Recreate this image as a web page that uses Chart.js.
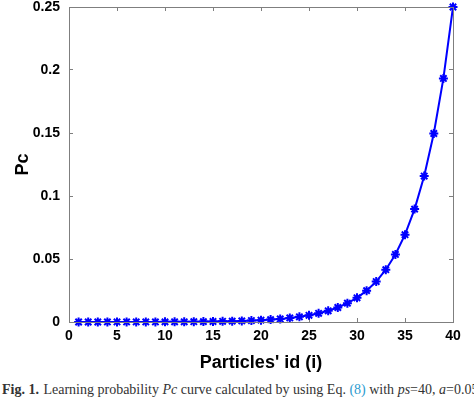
<!DOCTYPE html>
<html>
<head>
<meta charset="utf-8">
<script src="https://cdn.jsdelivr.net/npm/chart.js@4"></script>
<style>
    html, body { margin: 0; padding: 0; background: #fff; }
    #wrap { position: relative; width: 474px; height: 397px; overflow: hidden; }
    #chart { position: absolute; left: 0; top: 0; }
    #frame {
        position: absolute; left: 69px; top: 7px; width: 383px; height: 314px;
        border: 1px solid #7f7f7f; pointer-events: none;
    }
    #caption {
        position: absolute; left: 2px; top: 382px;
        font-family: 'Liberation Serif', 'DejaVu Serif', serif;
        font-size: 14px; color: #333; white-space: nowrap;
    }
    #caption b { font-weight: bold; margin-right: 1px; }
    #caption .ref { color: #2b9bd0; }
</style>
</head>
<body>
<div id="wrap">
    <canvas id="chart" width="474" height="376"></canvas>
    <div id="frame"></div>
    <div id="caption"><b>Fig. 1.</b> Learning probability <i>Pc</i> curve calculated by using Eq. <span class="ref">(8)</span> with <i>ps</i>=40, <i>a</i>=0.05, <i>b</i>=0.45</div>
</div>
<script>
// particle ids 1..40
const particleIds = [1, 2, 3, 4, 5, 6, 7, 8, 9, 10, 11, 12, 13, 14, 15, 16, 17, 18, 19, 20,
    21, 22, 23, 24, 25, 26, 27, 28, 29, 30, 31, 32, 33, 34, 35, 36, 37, 38, 39, 40];
// learning probability Pc
const pcValues = [0, 0.000003, 0.000008, 0.000013, 0.00002, 0.00003, 0.000042, 0.000057, 0.000077, 0.000103,
    0.000136, 0.000179, 0.000235, 0.000307, 0.0004, 0.00052, 0.000675, 0.000876, 0.00113, 0.00147,
    0.0019, 0.00246, 0.00319, 0.00412, 0.00533, 0.00689, 0.0089, 0.0115, 0.0149, 0.0192,
    0.0249, 0.0321, 0.0415, 0.0536, 0.0693, 0.0896, 0.1158, 0.1496, 0.1933, 0.25];
const xTicks = [0, 5, 10, 15, 20, 25, 30, 35, 40];
const yTicks = [0, 0.05, 0.1, 0.15, 0.2, 0.25];

const axisFont = "'Liberation Sans', Arial, sans-serif";
const frameColor = '#7f7f7f';

// ticks pointing into the plot, no grid lines (matlab look)
const inwardGrid = { display: true, drawOnChartArea: false, drawTicks: true, tickLength: -4, color: frameColor, lineWidth: 1 };
const frameBorder = { display: true, color: frameColor, width: 1 };

new Chart(document.getElementById('chart'), {
    type: 'line',
    data: {
        datasets: [{
            data: particleIds.map((id, i) => ({ x: id, y: pcValues[i] })),
            borderColor: '#0000ff',
            backgroundColor: '#0000ff',
            borderWidth: 2,
            pointStyle: 'star',
            pointRadius: 4.5,
            pointBorderWidth: 2,
            tension: 0,
            clip: false
        }]
    },
    options: {
        responsive: false,
        animation: false,
        layout: { padding: { top: 7, right: 21, left: 0, bottom: 0 } },
        plugins: { legend: { display: false }, tooltip: { enabled: false } },
        scales: {
            x: {
                type: 'linear',
                position: 'bottom',
                min: 0, max: 40,
                afterBuildTicks: s => { s.ticks = xTicks.map(v => ({ value: v })); },
                grid: inwardGrid,
                border: frameBorder,
                ticks: {
                    color: '#000', padding: 10, maxRotation: 0,
                    font: { family: axisFont, size: 14, weight: 'bold' }
                },
                title: {
                    display: true, text: "Particles' id (i)", color: '#000',
                    padding: { top: 4, bottom: 2 },
                    font: { family: axisFont, size: 18, weight: 'bold' }
                },
                afterFit: s => { s.height = 54; }
            },
            x2: {
                type: 'linear',
                axis: 'x',
                position: 'top',
                min: 0, max: 40,
                afterBuildTicks: s => { s.ticks = xTicks.map(v => ({ value: v })); },
                grid: inwardGrid,
                border: frameBorder,
                ticks: { display: false },
                afterFit: s => { s.height = 0; s.paddingLeft = 0; s.paddingRight = 0; }
            },
            y: {
                position: 'left',
                min: 0, max: 0.25,
                afterBuildTicks: s => { s.ticks = yTicks.map(v => ({ value: v })); },
                grid: inwardGrid,
                border: frameBorder,
                ticks: {
                    color: '#000', padding: 13,
                    font: { family: axisFont, size: 14, weight: 'bold' },
                    callback: v => String(Number(v.toFixed(2)))
                },
                title: {
                    display: true, text: 'Pc', color: '#000',
                    padding: { top: 12, bottom: 0 },
                    font: { family: axisFont, size: 18, weight: 'bold' }
                },
                afterFit: s => { s.width = 69; s.paddingTop = 0; s.paddingBottom = 0; }
            },
            y2: {
                axis: 'y',
                position: 'right',
                min: 0, max: 0.25,
                afterBuildTicks: s => { s.ticks = yTicks.map(v => ({ value: v })); },
                grid: inwardGrid,
                border: frameBorder,
                ticks: { display: false },
                afterFit: s => { s.width = 0; s.paddingTop = 0; s.paddingBottom = 0; }
            }
        }
    }
});
</script>
</body>
</html>
